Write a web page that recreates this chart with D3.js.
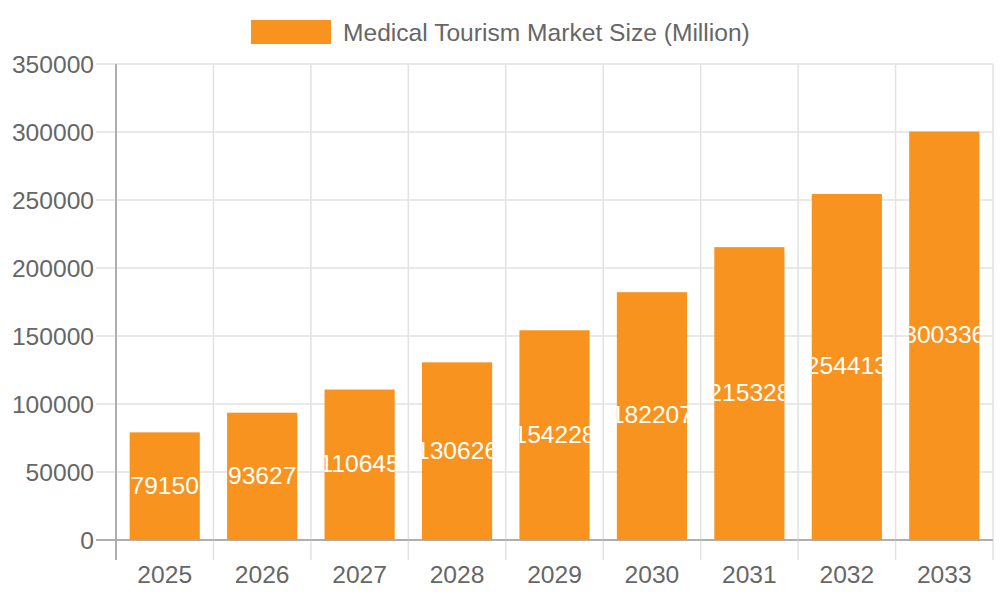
<!DOCTYPE html>
<html lang="en">
<head>
    <meta charset="UTF-8">
    <script src="https://d3js.org/d3.v7.min.js"></script>
    <title>Medical Tourism Market Size</title>
    <style>
        body { margin: 0; background: white; }
        text { font-family: "Liberation Sans", Arial, sans-serif; }
    </style>
</head>
<body>
    <div id="chart"></div>
    <script>
        // chart data
        const years = ["2025", "2026", "2027", "2028", "2029", "2030", "2031", "2032", "2033"];
        const marketSize = [79150, 93627, 110645, 130626, 154228, 182207, 215328, 254413, 300336];
        const yTicks = [0, 50000, 100000, 150000, 200000, 250000, 300000, 350000];
        const seriesName = "Medical Tourism Market Size (Million)";

        const width = 1000, height = 600;
        const plot = { left: 116, right: 993, top: 64, bottom: 540 };
        const barColor = "#f7931e";
        const textColor = "#666";
        const fontSize = 24.6;

        const svg = d3.select("#chart").append("svg")
            .attr("width", width)
            .attr("height", height);

        // scales
        const x = d3.scaleBand()
            .domain(years)
            .range([plot.left, plot.right])
            .padding(0);

        const y = d3.scaleLinear()
            .domain([0, 350000])
            .range([plot.bottom, plot.top]);

        const barW = x.bandwidth() * 0.72;

        /*------------ grid ------------*/
        svg.append("g")
            .selectAll("line")
            .data(yTicks)
            .join("line")
            .attr("x1", plot.left - 20)
            .attr("x2", plot.right)
            .attr("y1", d => y(d))
            .attr("y2", d => y(d))
            .attr("stroke", d => d === 0 ? "#aaa" : "#e2e2e2")
            .attr("stroke-width", 1.5);

        const edges = years.map(d => x(d)).concat([plot.right]);
        svg.append("g")
            .selectAll("line")
            .data(edges)
            .join("line")
            .attr("x1", d => d)
            .attr("x2", d => d)
            .attr("y1", plot.top)
            .attr("y2", plot.bottom + 20)
            .attr("stroke", (d, i) => i === 0 ? "#aaa" : "#e2e2e2")
            .attr("stroke-width", 1.5);

        // redraw axes lines on top of grid
        svg.append("line")
            .attr("x1", plot.left - 20).attr("x2", plot.right)
            .attr("y1", plot.bottom).attr("y2", plot.bottom)
            .attr("stroke", "#aaa").attr("stroke-width", 1.5);
        svg.append("line")
            .attr("x1", plot.left).attr("x2", plot.left)
            .attr("y1", plot.top).attr("y2", plot.bottom + 20)
            .attr("stroke", "#aaa").attr("stroke-width", 1.5);

        /*------------ tick labels ------------*/
        svg.append("g")
            .selectAll("text")
            .data(yTicks)
            .join("text")
            .attr("x", plot.left - 22)
            .attr("y", d => y(d))
            .attr("dy", "0.35em")
            .attr("text-anchor", "end")
            .attr("font-size", fontSize)
            .attr("fill", textColor)
            .text(d => d);

        svg.append("g")
            .selectAll("text")
            .data(years)
            .join("text")
            .attr("x", d => x(d) + x.bandwidth() / 2)
            .attr("y", 574)
            .attr("dy", "0.35em")
            .attr("text-anchor", "middle")
            .attr("font-size", fontSize)
            .attr("fill", textColor)
            .text(d => d);

        /*------------ bars ------------*/
        const defs = svg.append("defs");
        years.forEach((d, i) => {
            defs.append("clipPath")
                .attr("id", "clip" + i)
                .append("rect")
                .attr("x", x(d) + (x.bandwidth() - barW) / 2)
                .attr("y", y(marketSize[i]))
                .attr("width", barW)
                .attr("height", y(0) - y(marketSize[i]));
        });

        svg.append("g")
            .selectAll("rect")
            .data(marketSize)
            .join("rect")
            .attr("x", (d, i) => x(years[i]) + (x.bandwidth() - barW) / 2)
            .attr("y", d => y(d))
            .attr("width", barW)
            .attr("height", d => y(0) - y(d))
            .attr("fill", barColor);

        // value labels, clipped to each bar
        svg.append("g")
            .selectAll("text")
            .data(marketSize)
            .join("text")
            .attr("clip-path", (d, i) => "url(#clip" + i + ")")
            .attr("x", (d, i) => x(years[i]) + x.bandwidth() / 2)
            .attr("y", d => (y(d) + y(0)) / 2)
            .attr("dy", "0.3em")
            .attr("text-anchor", "middle")
            .attr("font-size", fontSize)
            .attr("fill", "white")
            .text(d => d);

        /*------------ legend ------------*/
        svg.append("rect")
            .attr("x", 251).attr("y", 20)
            .attr("width", 80).attr("height", 24)
            .attr("fill", barColor);
        svg.append("text")
            .attr("x", 343).attr("y", 32)
            .attr("dy", "0.35em")
            .attr("font-size", fontSize)
            .attr("fill", textColor)
            .text(seriesName);
    </script>
</body>
</html>
